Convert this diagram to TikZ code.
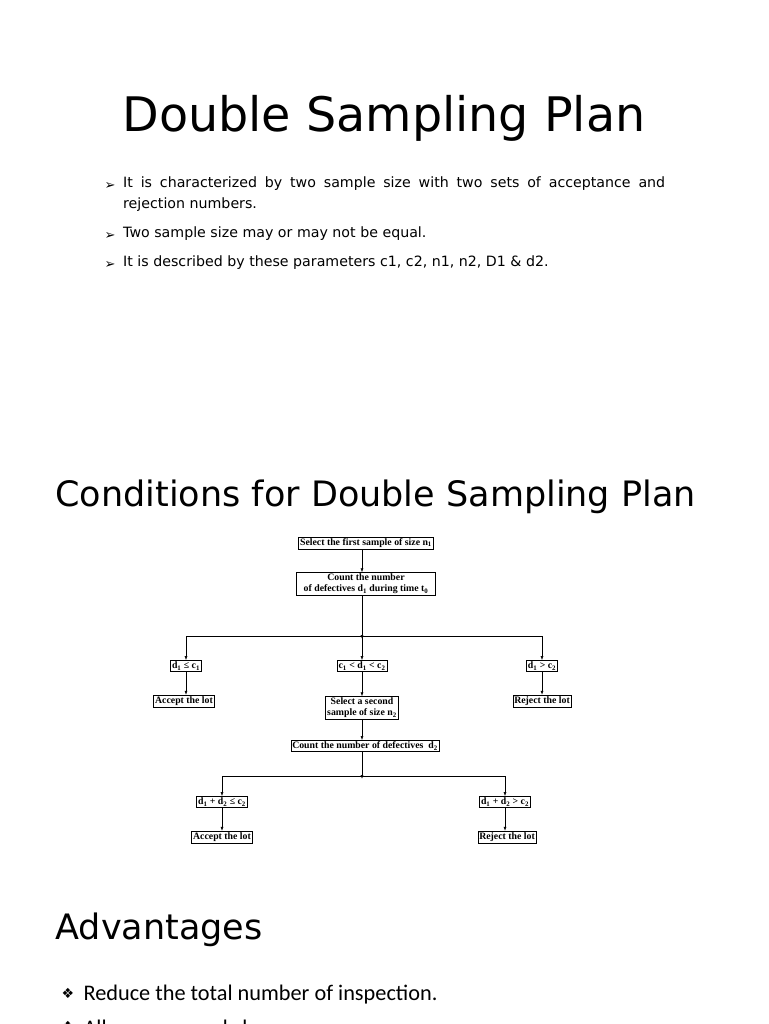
\documentclass[tikz,border=0pt]{standalone}
\usepackage{fontspec}
\setmainfont{Liberation Serif}
\newfontfamily\dejavu{DejaVu Sans}
\newfontfamily\carl{Carlito}
\usetikzlibrary{arrows.meta}
\hyphenpenalty=10000
\begin{document}
\begin{tikzpicture}[x=1pt,y=-1pt,
  fb/.style={draw,line width=0.5pt,fill=white,font=\bfseries\fontsize{9.8}{10.8}\selectfont,inner sep=1.5pt,align=center},
  ar/.style={line width=0.6pt,-{Latex[length=4pt,width=3pt]}},
  ln/.style={line width=0.6pt},
  hd/.style={anchor=west,font=\dejavu\fontsize{35}{40}\selectfont},
  bl/.style={anchor=north west,font=\dejavu\fontsize{14.2}{21}\selectfont,align=justify,text width=542pt,inner sep=0pt}]
\useasboundingbox (0,0) rectangle (768,1024);
\clip (0,0) rectangle (768,1024);
\node (title) at (384,118) {\dejavu\fontsize{47.6}{54}\selectfont Double Sampling Plan};
\node[font=\dejavu\fontsize{13}{16}\selectfont] (a1) at (110,186) {➢};
\node[bl] (t1) at (123,177) {It is characterized by two sample size with two sets of acceptance and rejection numbers.};
\node[font=\dejavu\fontsize{13}{16}\selectfont] (a2) at (110,236) {➢};
\node[bl] (t2) at (123,227) {Two sample size may or may not be equal.};
\node[font=\dejavu\fontsize{13}{16}\selectfont] (a3) at (110,265) {➢};
\node[bl] (t3) at (123,256) {It is described by these parameters c1, c2, n1, n2, D1 \& d2.};
\node[hd] (h1) at (52,497) {Conditions for Double Sampling Plan};
\node[hd] (h2) at (52,930) {Advantages};
\node[font=\dejavu\fontsize{14}{16}\selectfont] (d1) at (68,993) {❖};
\node[anchor=west,font=\carl\fontsize{22.3}{26}\selectfont] (r1) at (80,995) {Reduce the total number of inspection.};
\node[font=\dejavu\fontsize{14}{16}\selectfont] (d2) at (68,1026) {❖};
\node[anchor=west,font=\carl\fontsize{22.3}{26}\selectfont] (r2) at (80,1028) {Allows a second chance.};
% flowchart
\node[fb] (b1) at (366,543) {Select the first sample of size n\textsubscript{1}};
\node[fb,minimum width=139pt] (b2) at (366,584) {Count the number\\ of defectives d\textsubscript{1} during time t\textsubscript{0}};
\coordinate (j1) at (362,636);
\coordinate (jl) at (186,636);
\coordinate (jr) at (542,636);
\node[fb] (c1) at (186,666) {d\textsubscript{1} ≤ c\textsubscript{1}};
\node[fb] (c2) at (362,666) {c\textsubscript{1} < d\textsubscript{1} < c\textsubscript{2}};
\node[fb] (c3) at (542,666) {d\textsubscript{1} > c\textsubscript{2}};
\node[fb] (acc1) at (184,701) {Accept the lot};
\node[fb] (sel) at (362,708) {Select a second\\ sample of size n\textsubscript{2}};
\node[fb] (rej1) at (542,701) {Reject the lot};
\node[fb] (cnt2) at (365,746) {Count the number of defectives \ d\textsubscript{2}};
\coordinate (j2) at (362,776);
\coordinate (kl) at (222,776);
\coordinate (kr) at (505,776);
\node[fb] (e1) at (222,802) {d\textsubscript{1} + d\textsubscript{2} ≤ c\textsubscript{2}};
\node[fb] (e2) at (505,802) {d\textsubscript{1} + d\textsubscript{2} > c\textsubscript{2}};
\node[fb] (acc2) at (222,837) {Accept the lot};
\node[fb] (rej2) at (507,837) {Reject the lot};
\draw[ar] (b1.south -| 362,0) -- (b2.north -| 362,0);
\draw[ar] (b2.south -| 362,0) -- ([yshift=-3]j1);
\draw[ln] (jl) -- (jr);
\draw[ar] (jl) -- (c1.north);
\draw[ar] (j1) -- (c2.north);
\draw[ar] (jr) -- (c3.north);
\draw[ar] (c1.south) -- (c1.south |- acc1.north);
\draw[ar] (c2.south) -- (sel.north);
\draw[ar] (c3.south) -- (rej1.north);
\draw[ar] (sel.south) -- (sel.south |- cnt2.north);
\draw[ar] (cnt2.south -| 362,0) -- ([yshift=-3]j2);
\draw[ln] (kl) -- (kr);
\draw[ar] (kl) -- (e1.north);
\draw[ar] (kr) -- (e2.north);
\draw[ar] (e1.south) -- (acc2.north);
\draw[ar] (e2.south) -- (e2.south |- rej2.north);
\end{tikzpicture}
\end{document}
